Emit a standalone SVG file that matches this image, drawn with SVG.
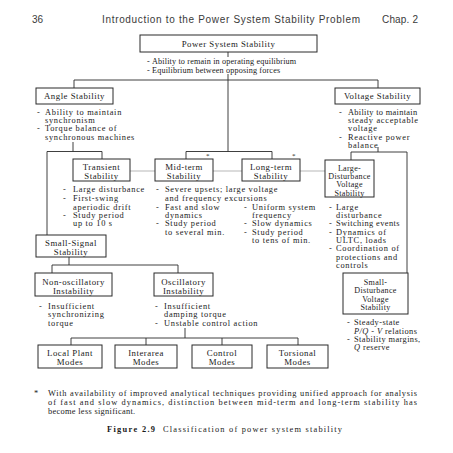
<svg xmlns="http://www.w3.org/2000/svg" width="453" height="453" viewBox="0 0 453 453">
<style>
.bg{fill:#fff}
.box{fill:#fff;stroke:#2a2a2a;stroke-width:1}
.c{fill:none;stroke:#2a2a2a;stroke-width:0.9}
.g{fill:none;stroke:#9a9a9a;stroke-width:0.7}
.t{font-family:"Liberation Serif","Times New Roman",serif;font-size:8.4px;fill:#1a1a1a;letter-spacing:0.7px}
.top{font-family:"Liberation Serif","Times New Roman",serif;font-size:8.2px;fill:#1a1a1a;letter-spacing:0.15px}
.b{font-family:"Liberation Serif","Times New Roman",serif;font-size:8.8px;fill:#1a1a1a;letter-spacing:0.5px;text-anchor:middle}
.bn{font-family:"Liberation Serif","Times New Roman",serif;font-size:8.1px;fill:#1a1a1a;letter-spacing:0.3px;text-anchor:middle}
.f{font-family:"Liberation Serif","Times New Roman",serif;font-size:8.4px;fill:#1a1a1a}
.h{font-family:"Liberation Sans",Arial,sans-serif;font-size:10px;fill:#3a3a3a}
.s{font-family:"Liberation Serif",serif;font-size:7px;fill:#1a1a1a}
.i{font-style:italic}
</style>
<rect class="bg" x="0" y="0" width="453" height="453"/>
<g id="header">
<text class="h" x="32" y="23">36</text>
<text class="h" x="102" y="23" textLength="258" lengthAdjust="spacing">Introduction to the Power System Stability Problem</text>
<text class="h" x="382" y="23" textLength="36" lengthAdjust="spacing">Chap. 2</text>
</g>
<g id="gray-lines">
<line class="g" x1="130" y1="171" x2="325" y2="171"/>
</g>
<g id="connectors">
<path class="c" d="M228,52 V57"/>
<path class="c" d="M228,74 V80 M74,80 H378 M74,80 V88 M378,80 V88"/>
<path class="c" d="M73,142 V151.5 M47,151.5 H102 M102,151.5 V159 M47,151.5 V235"/>
<path class="c" d="M228,80 V151.5 M186,151.5 H272 M186,151.5 V159 M272,151.5 V159"/>
<path class="c" d="M378,147 V152 M351,152 H407 M351,152 V160 M407,152 V273"/>
<path class="c" d="M69,257 V265 M52,265 H178 M52,265 V273 M178,265 V273"/>
<path class="c" d="M185,328 V338 M71,338 H298 M71,338 V345 M146,338 V345 M222,338 V345 M298,338 V345"/>
</g>
<g id="n-power">
<rect class="box" x="140" y="35" width="177" height="17"/>
<text class="b" x="228.5" y="47">Power System Stability</text>
<text class="top" x="147" y="64">-</text>
<text class="top" x="152" y="64">Ability to remain in operating equilibrium</text>
<text class="top" x="147" y="72.5">-</text>
<text class="top" x="152" y="72.5">Equilibrium between opposing forces</text>
</g>
<g id="n-angle">
<rect class="box" x="36" y="88" width="77" height="16"/>
<text class="b" x="74.5" y="99">Angle Stability</text>
<text class="t" x="37" y="115">-</text>
<text class="t" x="45" y="115">Ability to maintain</text>
<text class="t" x="45" y="123">synchronism</text>
<text class="t" x="37" y="131">-</text>
<text class="t" x="45" y="131">Torque balance of</text>
<text class="t" x="45" y="140">synchronous machines</text>
</g>
<g id="n-voltage">
<rect class="box" x="335" y="88" width="85" height="16"/>
<text class="b" x="377.5" y="99">Voltage Stability</text>
<text class="t" x="339" y="115">-</text>
<text class="t" x="348" y="115" style="letter-spacing:0.3px">Ability to maintain</text>
<text class="t" x="348" y="123">steady acceptable</text>
<text class="t" x="348" y="131">voltage</text>
<text class="t" x="339" y="140">-</text>
<text class="t" x="348" y="140">Reactive power</text>
<text class="t" x="348" y="148">balance</text>
</g>
<g id="n-transient">
<rect class="box" x="73" y="159" width="57" height="22"/>
<text class="b" x="101.5" y="170">Transient</text>
<text class="b" x="101.5" y="179">Stability</text>
<text class="t" x="63" y="192">-</text>
<text class="t" x="73" y="192">Large disturbance</text>
<text class="t" x="63" y="201">-</text>
<text class="t" x="73" y="201">First-swing</text>
<text class="t" x="73" y="210">aperiodic drift</text>
<text class="t" x="63" y="218">-</text>
<text class="t" x="73" y="218">Study period</text>
<text class="t" x="73" y="226">up to 10 s</text>
</g>
<g id="n-midterm">
<rect class="box" x="155" y="159" width="58" height="22"/>
<text class="b" x="184" y="170">Mid-term</text>
<text class="b" x="184" y="179">Stability</text>
<text class="s" x="206" y="158">*</text>
<text class="t" x="156" y="192">-</text>
<text class="t" x="165" y="192">Severe upsets; large voltage</text>
<text class="t" x="165" y="201">and frequency excursions</text>
<text class="t" x="156" y="210">-</text>
<text class="t" x="165" y="210">Fast and slow</text>
<text class="t" x="165" y="218">dynamics</text>
<text class="t" x="156" y="226">-</text>
<text class="t" x="165" y="226">Study period</text>
<text class="t" x="165" y="235">to several min.</text>
</g>
<g id="n-longterm">
<rect class="box" x="242" y="159" width="58" height="22"/>
<text class="b" x="271" y="170">Long-term</text>
<text class="b" x="271" y="179">Stability</text>
<text class="s" x="292" y="158">*</text>
<text class="t" x="244" y="210">-</text>
<text class="t" x="252" y="210">Uniform system</text>
<text class="t" x="252" y="218">frequency</text>
<text class="t" x="244" y="226">-</text>
<text class="t" x="252" y="226">Slow dynamics</text>
<text class="t" x="244" y="235">-</text>
<text class="t" x="252" y="235">Study period</text>
<text class="t" x="252" y="243">to tens of min.</text>
</g>
<g id="n-largedist">
<rect class="box" x="325" y="160" width="49" height="37"/>
<text class="bn" x="349.5" y="170.5">Large-</text>
<text class="bn" x="349.5" y="178.8">Disturbance</text>
<text class="bn" x="349.5" y="187.1">Voltage</text>
<text class="bn" x="349.5" y="195.6">Stability</text>
<text class="t" x="329" y="210">-</text>
<text class="t" x="336" y="210">Large</text>
<text class="t" x="336" y="218">disturbance</text>
<text class="t" x="329" y="226">-</text>
<text class="t" x="336" y="226" style="letter-spacing:0.4px">Switching events</text>
<text class="t" x="329" y="235">-</text>
<text class="t" x="336" y="235">Dynamics of</text>
<text class="t" x="336" y="243">ULTC, loads</text>
<text class="t" x="329" y="251">-</text>
<text class="t" x="336" y="251">Coordination of</text>
<text class="t" x="336" y="260">protections and</text>
<text class="t" x="336" y="268">controls</text>
</g>
<g id="n-smallsignal">
<rect class="box" x="36" y="235" width="70" height="22"/>
<text class="b" x="71" y="246">Small-Signal</text>
<text class="b" x="71" y="255">Stability</text>
</g>
<g id="n-nonosc">
<rect class="box" x="35" y="273" width="77" height="23"/>
<text class="b" x="73.5" y="284.5">Non-oscillatory</text>
<text class="b" x="73.5" y="293.5">Instability</text>
<text class="t" x="39" y="309">-</text>
<text class="t" x="48" y="309">Insufficient</text>
<text class="t" x="48" y="317">synchronizing</text>
<text class="t" x="48" y="326">torque</text>
</g>
<g id="n-osc">
<rect class="box" x="154" y="273" width="59" height="23"/>
<text class="b" x="183.5" y="284.5">Oscillatory</text>
<text class="b" x="183.5" y="293.5">Instability</text>
<text class="t" x="155" y="309">-</text>
<text class="t" x="164" y="309">Insufficient</text>
<text class="t" x="164" y="317">damping torque</text>
<text class="t" x="155" y="326">-</text>
<text class="t" x="164" y="326">Unstable control action</text>
</g>
<g id="n-smalldist">
<rect class="box" x="343" y="273" width="65" height="41"/>
<text class="bn" x="375.5" y="284.5">Small-</text>
<text class="bn" x="375.5" y="293">Disturbance</text>
<text class="bn" x="375.5" y="301.5">Voltage</text>
<text class="bn" x="375.5" y="310">Stability</text>
<text class="t" x="347" y="325">-</text>
<text class="t" x="354" y="325" style="letter-spacing:0.4px">Steady-state</text>
<text class="t" x="354" y="334" style="letter-spacing:0.4px"><tspan class="i">P/Q</tspan> - <tspan class="i">V</tspan> relations</text>
<text class="t" x="347" y="342">-</text>
<text class="t" x="354" y="342" style="letter-spacing:0.4px">Stability margins,</text>
<text class="t" x="354" y="350" style="letter-spacing:0.4px"><tspan class="i">Q</tspan> reserve</text>
</g>
<g id="n-local">
<rect class="box" x="38" y="345" width="64" height="23"/>
<text class="b" x="70" y="356">Local Plant</text>
<text class="b" x="70" y="365">Modes</text>
</g>
<g id="n-interarea">
<rect class="box" x="115" y="345" width="62" height="23"/>
<text class="b" x="146" y="356">Interarea</text>
<text class="b" x="146" y="365">Modes</text>
</g>
<g id="n-control">
<rect class="box" x="192" y="345" width="60" height="23"/>
<text class="b" x="222" y="356">Control</text>
<text class="b" x="222" y="365">Modes</text>
</g>
<g id="n-torsional">
<rect class="box" x="267" y="345" width="61" height="23"/>
<text class="b" x="297.5" y="356">Torsional</text>
<text class="b" x="297.5" y="365">Modes</text>
</g>
<g id="footnote">
<text class="f" x="34" y="396">*</text>
<text class="f" x="48" y="396" textLength="369" lengthAdjust="spacing">With availability of improved analytical techniques providing unified approach for analysis</text>
<text class="f" x="48" y="405" textLength="369" lengthAdjust="spacing">of fast and slow dynamics, distinction between mid-term and long-term stability has</text>
<text class="f" x="48" y="414" style="letter-spacing:0.3px">become less significant.</text>
</g>
<g id="caption">
<text class="f" x="107" y="432" textLength="48" lengthAdjust="spacing" style="font-weight:bold">Figure 2.9</text>
<text class="f" x="163" y="432" textLength="179" lengthAdjust="spacing">Classification of power system stability</text>
</g>
</svg>
